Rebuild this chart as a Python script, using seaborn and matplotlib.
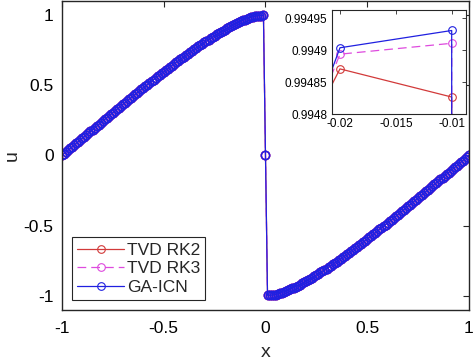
import numpy as np
import matplotlib
matplotlib.use("Agg")
import matplotlib.pyplot as plt
import seaborn as sns
from matplotlib.ticker import FormatStrFormatter

# solution on x in [-1, 1], dx = 0.01
u_left = [
    0.000, 0.012, 0.024, 0.037, 0.049, 0.061, 0.073, 0.086, 0.098, 0.110,
    0.122, 0.134, 0.146, 0.159, 0.171, 0.183, 0.195, 0.207, 0.219, 0.231,
    0.243, 0.256, 0.268, 0.280, 0.292, 0.304, 0.316, 0.328, 0.340, 0.351,
    0.363, 0.375, 0.387, 0.399, 0.411, 0.422, 0.434, 0.446, 0.458, 0.469,
    0.481, 0.492, 0.504, 0.515, 0.527, 0.538, 0.550, 0.561, 0.572, 0.583,
    0.595, 0.606, 0.617, 0.628, 0.639, 0.650, 0.661, 0.671, 0.682, 0.693,
    0.703, 0.714, 0.724, 0.735, 0.745, 0.755, 0.765, 0.775, 0.785, 0.795,
    0.805, 0.814, 0.823, 0.833, 0.842, 0.851, 0.860, 0.869, 0.877, 0.886,
    0.895, 0.903, 0.911, 0.919, 0.926, 0.933, 0.941, 0.947, 0.954, 0.960,
    0.966, 0.972, 0.977, 0.982, 0.986, 0.990, 0.9925, 0.99443, 0.99490, 0.99493,
]
u_mid = [0.0]
u_right = [
    -0.99493, -0.99490, -0.99443, -0.9925, -0.990, -0.986, -0.982, -0.977, -0.972, -0.966,
    -0.960, -0.954, -0.947, -0.941, -0.933, -0.926, -0.919, -0.911, -0.903, -0.895,
    -0.886, -0.877, -0.869, -0.860, -0.851, -0.842, -0.833, -0.823, -0.814, -0.805,
    -0.795, -0.785, -0.775, -0.765, -0.755, -0.745, -0.735, -0.724, -0.714, -0.703,
    -0.693, -0.682, -0.671, -0.661, -0.650, -0.639, -0.628, -0.617, -0.606, -0.595,
    -0.583, -0.572, -0.561, -0.550, -0.538, -0.527, -0.515, -0.504, -0.492, -0.481,
    -0.469, -0.458, -0.446, -0.434, -0.422, -0.411, -0.399, -0.387, -0.375, -0.363,
    -0.351, -0.340, -0.328, -0.316, -0.304, -0.292, -0.280, -0.268, -0.256, -0.243,
    -0.231, -0.219, -0.207, -0.195, -0.183, -0.171, -0.159, -0.146, -0.134, -0.122,
    -0.110, -0.098, -0.086, -0.073, -0.061, -0.049, -0.037, -0.024, -0.012, 0.000,
]

# zoomed values near the shock
x_zoom = [-0.03, -0.02, -0.01, 0.0]
u_rk2_zoom = [0.99453, 0.994871, 0.994827, 0.0]
u_rk3_zoom = [0.99446, 0.994894, 0.994911, 0.0]
u_ga_zoom = [0.99443, 0.994904, 0.994931, 0.0]

labels = ["TVD RK2", "TVD RK3", "GA-ICN"]
colors = ["#d23a3a", "#de4ade", "#2020e0"]
styles = ["-", (0, (7, 4)), "-"]

sns.set_theme(style="white")
plt.rcParams["font.family"] = ["Liberation Sans", "DejaVu Sans"]
plt.rcParams["axes.unicode_minus"] = False

x = np.linspace(-1, 1, 201)
u_all = np.array(u_left + u_mid + u_right)

fig = plt.figure(figsize=(4.74, 3.63), dpi=100)
ax = fig.add_axes([0.1308, 0.146, 0.8586, 0.852])

for lab, c, ls in zip(labels, colors, styles):
    sns.lineplot(x=x, y=u_all, ax=ax, color=c, linestyle=ls, lw=0.9,
                 marker="o", markersize=6, markerfacecolor="none",
                 markeredgecolor=c, markeredgewidth=1.1,
                 estimator=None, sort=False, label=lab, legend=False)

ax.set_xlim(-1, 1)
ax.set_ylim(-1.1, 1.1)
ax.set_xticks([-1, -0.5, 0, 0.5, 1])
ax.set_yticks([-1, -0.5, 0, 0.5, 1])
ax.xaxis.set_major_formatter(FormatStrFormatter("%g"))
ax.yaxis.set_major_formatter(FormatStrFormatter("%g"))
ax.tick_params(direction="in", length=4, width=0.8, labelsize=12.5, pad=6,
               top=True, right=True, colors="#262626", labelcolor="black")
ax.tick_params(axis="x", pad=8)
for s in ax.spines.values():
    s.set_color("#262626")
    s.set_linewidth(1.0)
ax.set_xlabel("x", fontsize=14, labelpad=6)
ax.set_ylabel("u", fontsize=14, labelpad=2)

leg = ax.legend(loc="lower left", bbox_to_anchor=(0.025, 0.032), borderaxespad=0,
                fontsize=12.5, handlelength=2.7, handletextpad=0.15,
                labelspacing=0.2, borderpad=0.3, fancybox=False, framealpha=1)
leg.get_frame().set_edgecolor("#262626")
leg.get_frame().set_linewidth(0.8)
for h in leg.get_lines():
    h.set_markersize(5.5)
    h.set_markeredgewidth(0.8)

# inset
axin = fig.add_axes([0.6998, 0.6851, 0.2833, 0.2873])
for yz, c, ls in zip([u_rk2_zoom, u_rk3_zoom, u_ga_zoom], colors, styles):
    sns.lineplot(x=x_zoom, y=yz, ax=axin, color=c, linestyle=ls, lw=0.9,
                 marker="o", markersize=5.5, markerfacecolor="none",
                 markeredgecolor=c, markeredgewidth=0.8,
                 estimator=None, sort=False, legend=False)
axin.set_xlim(-0.02074, -0.00872)
axin.set_ylim(0.9948, 0.994963)
axin.set_xticks([-0.02, -0.015, -0.01])
axin.set_yticks([0.9948, 0.99485, 0.9949, 0.99495])
axin.xaxis.set_major_formatter(FormatStrFormatter("%g"))
axin.yaxis.set_major_formatter(FormatStrFormatter("%g"))
axin.tick_params(direction="in", length=3, width=0.6, labelsize=8.5, pad=3,
                 top=True, right=True, colors="#262626", labelcolor="black")
for s in axin.spines.values():
    s.set_color("#262626")
    s.set_linewidth(0.8)
axin.set_xlabel("")
axin.set_ylabel("")

fig.savefig("out.png", dpi=100)
